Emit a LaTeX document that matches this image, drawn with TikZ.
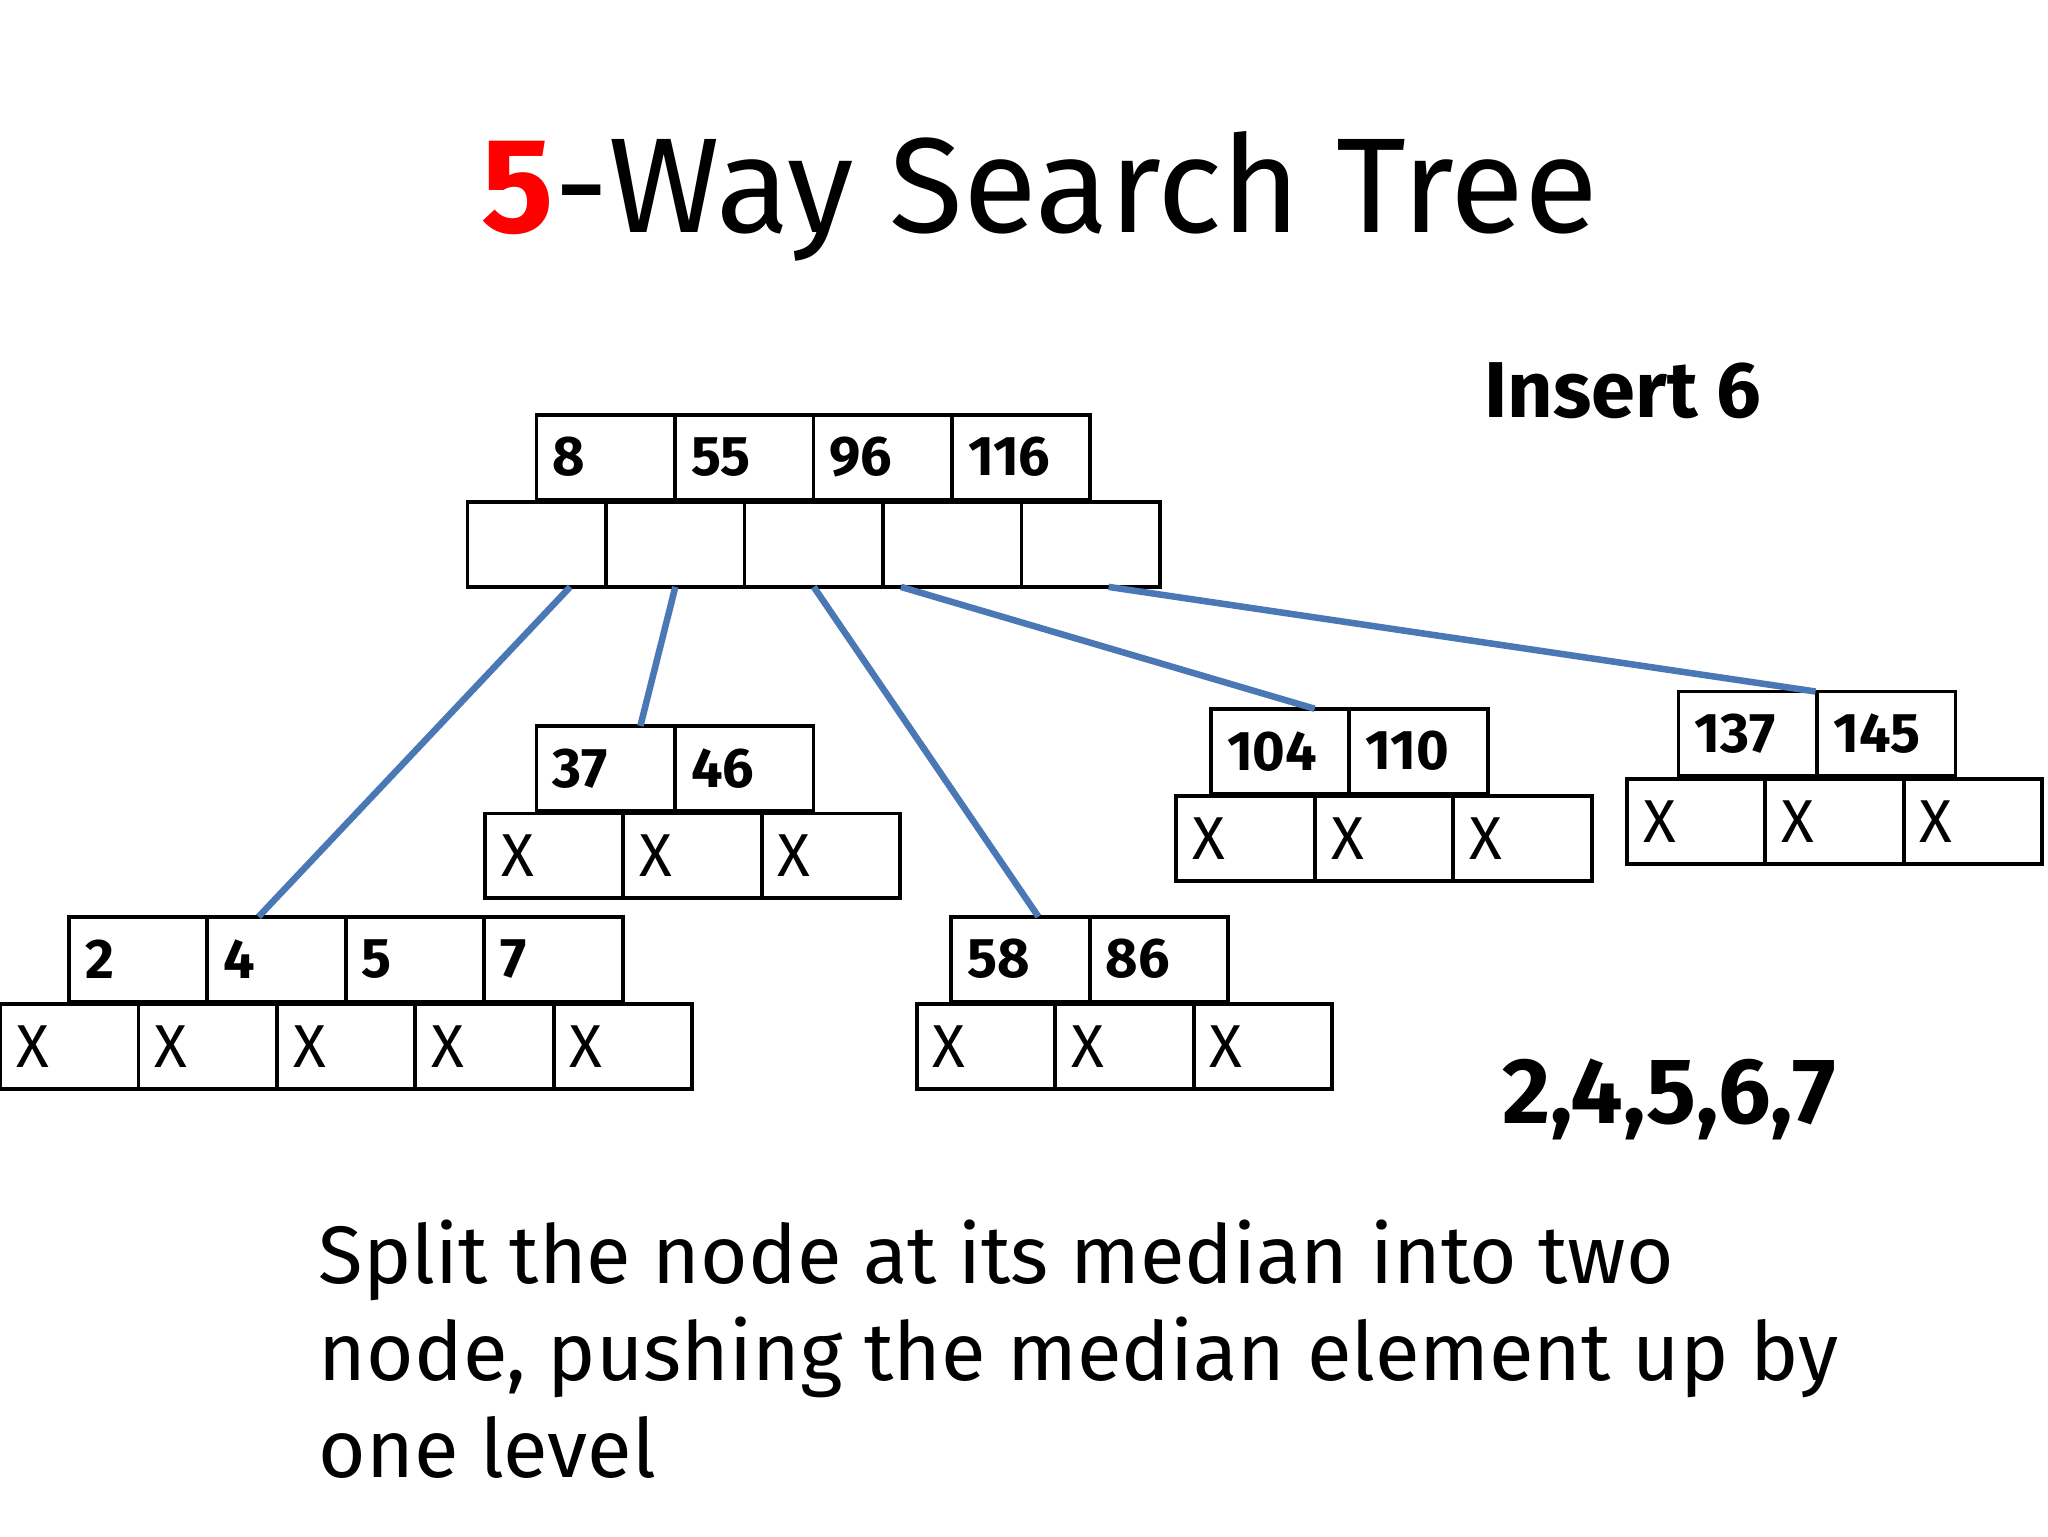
\documentclass[tikz,border=0pt]{standalone}
\usepackage{fontspec}
\setmainfont{Fira Sans}
\usetikzlibrary{calc}
\begin{document}
\begin{tikzpicture}[x=0.01cm,y=-0.01cm,
 cell/.style={draw,thick,minimum width=1.045cm,minimum height=0.64cm,inner sep=0pt,outer sep=0pt,anchor=north west,text width=0.8cm,align=left,font=\fontsize{12}{12}\selectfont\bfseries},
 xcell/.style={cell,font=\fontsize{13}{13}\selectfont},
 link/.style={draw={rgb,255:red,74;green,120;blue,180},line width=1.4pt}]
\useasboundingbox (0,0) rectangle (1546,1160);
\newcommand{\keyrow}[4]{\foreach \t [count=\i from 0] in {#4}{\node[cell] (#1\i) at ({#2+\i*104.5},#3) {\t};}}
\newcommand{\xrow}[4]{\foreach \t [count=\i from 0] in {#4}{\node[xcell] (#1\i) at ({#2+\i*104.5},#3) {\t};}}
\node[font=\fontsize{29}{29}\selectfont] (title) at (785,148) {\textcolor{red}{\textbf{5}}-Way Search Tree};
\node[font=\fontsize{17}{17}\selectfont\bfseries] (ins) at (1225,295) {Insert 6};
\node[font=\fontsize{20}{20}\selectfont\bfseries] (seq) at (1260,830) {2,4,5,6,7};
\keyrow{r}{405}{313}{8,55,96,116}
\xrow{rp}{353}{379}{{},{},{},{},{}}
\keyrow{a}{405}{548}{37,46}
\xrow{ap}{366}{614}{X,X,X}
\keyrow{b}{52}{692}{2,4,5,7}
\xrow{bp}{0}{758}{X,X,X,X,X}
\keyrow{c}{718}{692}{58,86}
\xrow{cp}{692}{758}{X,X,X}
\keyrow{d}{914}{535}{104,110}
\xrow{dp}{888}{601}{X,X,X}
\keyrow{e}{1267}{522}{137,145}
\xrow{ep}{1228}{588}{X,X,X}
\draw[link] ($(rp0.south west)!0.74!(rp0.south east)$) -- ($(b1.north west)!0.37!(b1.north east)$);
\draw[link] ($(rp1.south west)!0.5!(rp1.south east)$) -- ($(a0.north west)!0.75!(a0.north east)$);
\draw[link] ($(rp2.south west)!0.5!(rp2.south east)$) -- ($(c0.north west)!0.63!(c0.north east)$);
\draw[link] ($(rp3.south west)!0.13!(rp3.south east)$) -- ($(d0.north west)!0.75!(d0.north east)$);
\draw[link] ($(rp4.south west)!0.63!(rp4.south east)$) -- ($(e0.north west)!0.99!(e0.north east)$);
\node[anchor=north west,align=left,font=\fontsize{17.5}{20.8}\selectfont,inner sep=0pt] (txt) at (240,920) {Split the node at its median into two\\node, pushing the median element up by\\one level};
\end{tikzpicture}
\end{document}
